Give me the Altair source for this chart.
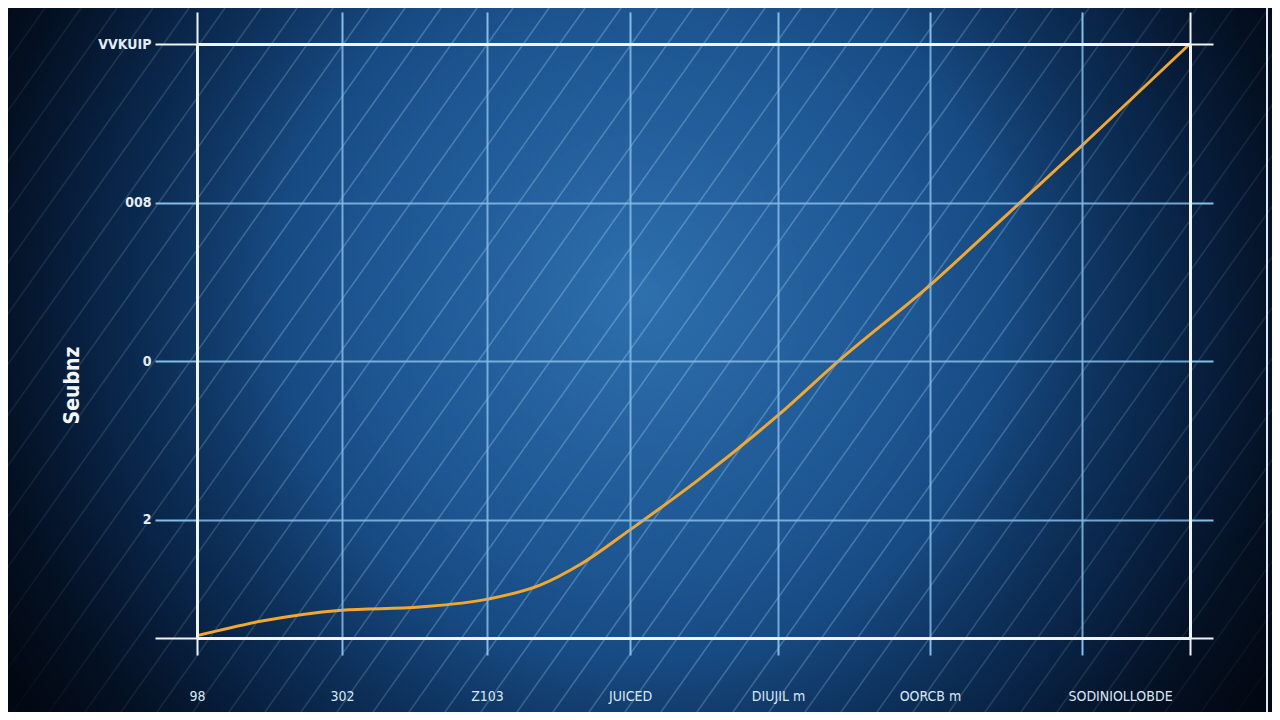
import altair as alt
import pandas as pd

# ---- chart values ----
X_TICKS = [0, 0.983, 1.966, 2.936, 3.939, 4.969, 6.0, 6.732]
X_LABELS = ["98", "302", "Z103", "JUICED", "DIUJIL m", "OORCB m", "SODINIOLLOBDE", ""]
Y_TICKS = [-0.745, 0, 1, 2, 3]
Y_LABELS = ["2", "0", "008", "VVKUIP"]
Y_TITLE = "Seubnz"

CURVE_X = [0, 0.43, 0.98, 1.51, 1.97, 2.33, 2.60, 2.94, 3.41, 3.94, 4.36, 4.97, 5.44, 6.0, 6.73]
CURVE_Y = [-0.73, -0.64, -0.57, -0.55, -0.50, -0.41, -0.28, -0.06, 0.26, 0.66, 1.01, 1.48, 1.88, 2.36, 3.0]

# decorative diagonal stripe offsets (background texture only)
STRIPES = list(range(-760, 1100, 36))

W, H = 993, 594
PAD = {"left": 189, "top": 36, "right": 82, "bottom": 74}
CW = W + PAD["left"] + PAD["right"]
CH = H + PAD["top"] + PAD["bottom"]

curve = pd.DataFrame({"x": CURVE_X, "y": CURVE_Y})
one = pd.DataFrame({"a": [0]})
stripes = pd.DataFrame({"s": STRIPES})

xdom = [0, 6.732]
ydom = [-0.745, 3]

grid_blue = "#86bce8"
white = "#eef4fa"

x_label_expr = "[" + ",".join("'" + s + "'" for s in X_LABELS) + "][round(datum.value)]"
y_label_expr = "datum.value < -0.5 ? '' : [" + ",".join("'" + s + "'" for s in Y_LABELS) + "][round(datum.value)]"

x_border = "datum.value < 0.01 || datum.value > 6.5"
y_border = "datum.value > 2.9 || datum.value < -0.5"

bg = alt.Chart(one).mark_rect(
    fill=alt.RadialGradient(
        gradient="radial", x1=0.5, y1=0.45, r1=0.0, x2=0.5, y2=0.45, r2=0.62,
        stops=[
            alt.GradientStop(offset=0.0, color="#2e6fad"),
            alt.GradientStop(offset=0.35, color="#1f5c9c"),
            alt.GradientStop(offset=0.7, color="#0e3a6e"),
            alt.GradientStop(offset=1.0, color="#020a17"),
        ],
    )
).encode(
    x=alt.value(-PAD["left"]), x2=alt.value(CW - PAD["left"]),
    y=alt.value(-PAD["top"]), y2=alt.value(CH - PAD["top"]),
)

stripe_layer = alt.Chart(stripes).transform_calculate(
    s2="datum.s + 500"
).mark_rule(color="#a3d3f7", opacity=0.36, strokeWidth=1.6).encode(
    x=alt.X("s:Q", scale=None, axis=None),
    x2="s2:Q",
    y=alt.value(CH - PAD["top"]),
    y2=alt.value(-PAD["top"]),
)

vignette = alt.Chart(one).mark_rect(
    fill=alt.RadialGradient(
        gradient="radial", x1=0.5, y1=0.45, r1=0.0, x2=0.5, y2=0.45, r2=0.58,
        stops=[
            alt.GradientStop(offset=0.0, color="rgba(0,0,0,0)"),
            alt.GradientStop(offset=0.5, color="rgba(3,14,32,0.1)"),
            alt.GradientStop(offset=0.8, color="rgba(3,12,28,0.6)"),
            alt.GradientStop(offset=1.0, color="rgba(2,8,18,0.95)"),
        ],
    )
).encode(
    x=alt.value(-PAD["left"]), x2=alt.value(CW - PAD["left"]),
    y=alt.value(-PAD["top"]), y2=alt.value(CH - PAD["top"]),
)

frame_rule = alt.Chart(one).mark_rule(color="#dfe8f2", strokeWidth=2).encode(
    x=alt.value(1070), y=alt.value(-PAD["top"]), y2=alt.value(CH - PAD["top"]),
)

main = alt.Chart(curve).mark_line(
    color="#f2a72e", strokeWidth=3, interpolate="monotone"
).encode(
    x=alt.X("x:Q", scale=alt.Scale(domain=xdom, nice=False, zero=False),
            axis=alt.Axis(
                orient="bottom", values=X_TICKS, labelExpr=x_label_expr, title=None,
                grid=True, gridWidth=2,
                gridColor={"condition": {"test": x_border, "value": white}, "value": grid_blue},
                gridOpacity={"condition": {"test": x_border, "value": 0}, "value": 0.85},
                domainColor=white, domainWidth=3,
                tickSize=17, tickWidth=2,
                tickColor={"condition": {"test": x_border, "value": white}, "value": grid_blue},
                labelPadding=34, labelFontSize=14, labelColor="#d9e8f6",
                labelFont="DejaVu Sans Condensed",
                labelOffset={"condition": {"test": "round(datum.value) == 6", "value": 38}, "value": 0},
                labelOverlap=False, labelFlush=False, zindex=1,
            )),
    y=alt.Y("y:Q", scale=alt.Scale(domain=ydom, nice=False, zero=False),
            axis=alt.Axis(
                orient="left", values=Y_TICKS, labelExpr=y_label_expr,
                title=Y_TITLE, titleAngle=270, titleX=-125, titleY=341,
                titleAlign="center", titleBaseline="middle",
                titleFontSize=21, titleFontWeight="bold", titleColor="#f2f6fb",
                titleFont="DejaVu Sans Condensed",
                grid=True, gridWidth=2,
                gridColor={"condition": {"test": y_border, "value": white}, "value": grid_blue},
                gridOpacity={"condition": {"test": y_border, "value": 0}, "value": 0.85},
                domainColor=white, domainWidth=3,
                tickSize=42, tickWidth=2,
                tickColor={"condition": {"test": y_border, "value": white}, "value": grid_blue},
                labelPadding=4, labelFontSize=14, labelFontWeight="bold",
                labelColor="#e3edf7", labelFont="DejaVu Sans Condensed",
                labelOverlap=False, labelFlush=False, zindex=1,
            )),
)

helper = alt.Chart(curve).mark_line(opacity=0).encode(
    x=alt.X("x:Q", scale=alt.Scale(domain=xdom, nice=False, zero=False),
            axis=alt.Axis(
                orient="top", values=X_TICKS, labels=False, title=None, grid=False,
                domainColor=white, domainWidth=3, tickSize=32, tickWidth=2,
                tickColor={"condition": {"test": x_border, "value": white}, "value": grid_blue},
                zindex=1,
            )),
    y=alt.Y("y:Q", scale=alt.Scale(domain=ydom, nice=False, zero=False),
            axis=alt.Axis(
                orient="right", values=Y_TICKS, labels=False, title=None, grid=False,
                domainColor=white, domainWidth=3, tickSize=23, tickWidth=2,
                tickColor={"condition": {"test": y_border, "value": white}, "value": grid_blue},
                zindex=1,
            )),
)

chart = alt.layer(bg, stripe_layer, vignette, frame_rule, main, helper).resolve_axis(
    x="independent", y="independent"
).properties(
    width=W, height=H,
    autosize=alt.AutoSizeParams(type="none"),
    padding=PAD,
    background="#041225",
).configure_view(stroke=None)

chart.save("out.html", embed_options={"renderer": "svg", "actions": False})
